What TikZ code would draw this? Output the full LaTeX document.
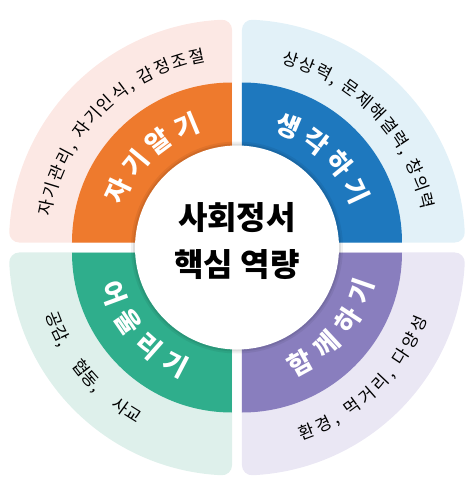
\documentclass[tikz,border=0pt]{standalone}
\usepackage{fontspec}
\setmainfont{Noto Sans CJK KR}
\usetikzlibrary{decorations.text}

% 영역 색
\definecolor{thinkblue}{RGB}{30,120,190}
\definecolor{thinksky}{RGB}{226,241,248}
\definecolor{knoworange}{RGB}{238,122,45}
\definecolor{knowpink}{RGB}{252,232,228}
\definecolor{harmgreen}{RGB}{47,174,140}
\definecolor{harmmint}{RGB}{222,240,235}
\definecolor{withpurple}{RGB}{137,126,190}
\definecolor{withlav}{RGB}{234,231,244}

\newcommand{\ringfont}{\fontsize{17}{20}\selectfont}

\tikzset{
  bandchar/.style={text=white, inner sep=0pt, font=\bfseries\fontsize{26}{26}\selectfont},
  ringtext/.style={decorate, decoration={text along path, text align={fit to path},
    text color=black, text={|\ringfont|#1}}},
  ringwide/.style={decorate, decoration={text along path,
    text align={fit to path stretching spaces}, text color=black, text={|\ringfont|#1}}}
}

\begin{document}
\begin{tikzpicture}[x=1pt, y=1pt]
  \useasboundingbox (-237,-251.5) rectangle (237,247.5);

  % 네 영역 (바깥 고리 + 색 띠)
  \foreach \ang/\light/\dark in {0/thinksky/thinkblue, 90/knowpink/knoworange,
      180/harmmint/harmgreen, 270/withlav/withpurple}{
    \begin{scope}[rotate=\ang, shift={(5,5)}]
      \filldraw[\light, line width=20pt, line join=round] (10,10) -- (87.31:213)
        arc[start angle=87.31, end angle=2.69, radius=213] -- cycle;
      \fill[\dark] (0,0) -- (0:160) arc[start angle=0, end angle=90, radius=160] -- cycle;
    \end{scope}
  }

  % 가운데 원
  \fill[black, opacity=0.06] (0,0) circle (106);
  \fill[black, opacity=0.08] (0,0) circle (104);
  \fill[white] (0,0) circle (102);
  \node[font=\fontsize{32}{47}\selectfont\bfseries, align=center] (core) at (0,6)
    {사회정서\\핵심 역량};

  % 띠 글자 (한 글자씩, 14도 간격)
  \foreach \word/\mid/\dir/\tag in {{자,기,알,기}/133.5/-1/know, {생,각,하,기}/46.2/-1/think,
      {어,울,리,기}/221.4/1/harm, {함,께,하,기}/319.8/1/with}{
    \foreach \ch [count=\i from 0] in \word{
      \pgfmathsetmacro{\th}{\mid+\dir*(14*\i-21)}
      \node[bandchar, rotate=\th+90*\dir] (\tag\i) at (\th:132) {\ch};
    }
  }

  % 바깥 고리 글자
  \path[ringtext={자기관리, 자기인식, 감정조절}] (170.5:189) arc[start angle=170.5, end angle=99.5, radius=189];
  \path[ringtext={상상력, 문제해결력, 창의력}] (76.5:189) arc[start angle=76.5, end angle=11.5, radius=189];
  \path[ringwide={공감, 협동, 사교}] (199.3:203) arc[start angle=199.3, end angle=240.3, radius=203];
  \path[ringtext={환경, 먹거리, 다양성}] (288.6:203) arc[start angle=288.6, end angle=339.4, radius=203];
\end{tikzpicture}
\end{document}
